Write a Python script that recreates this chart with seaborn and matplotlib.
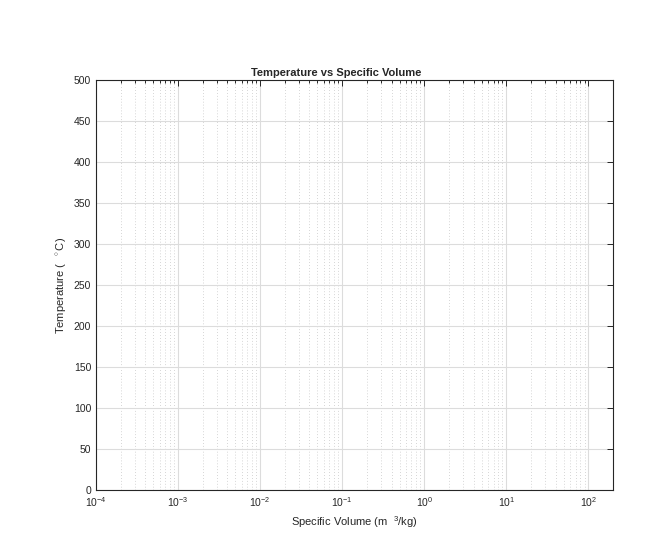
import matplotlib
matplotlib.use('Agg')
import matplotlib.pyplot as plt
import seaborn as sns
import numpy as np
from matplotlib.ticker import LogLocator, NullFormatter

# empty chart: no data series in the reference
specific_volume = np.array([], dtype=float)
temperature = np.array([], dtype=float)

x_limits = (1e-4, 2e2)
y_limits = (0, 500)
y_ticks = [0, 50, 100, 150, 200, 250, 300, 350, 400, 450, 500]

sns.set_style("white")
plt.rcParams['font.family'] = ['Liberation Sans', 'DejaVu Sans']
plt.rcParams['mathtext.fontset'] = 'custom'
plt.rcParams['mathtext.rm'] = 'Liberation Sans'

fig = plt.figure(figsize=(6.67, 5.45), dpi=100)
ax = fig.add_axes([96 / 667, 1 - 490 / 545, (613 - 96) / 667, (490 - 80) / 545])

sns.lineplot(x=specific_volume, y=temperature, ax=ax)

ax.set_xscale('log')
ax.set_xlim(*x_limits)
ax.set_ylim(*y_limits)
ax.set_yticks(y_ticks)
ax.xaxis.set_major_locator(LogLocator(base=10, numticks=12))
ax.xaxis.set_minor_locator(LogLocator(base=10, subs=np.arange(2, 10), numticks=12))
ax.xaxis.set_minor_formatter(NullFormatter())

ax.grid(True, which='major', color='#dcdcdc', linewidth=0.8, linestyle='-')
ax.grid(True, which='minor', axis='x', color='#c8c8c8', linewidth=0.6, linestyle=(0, (1, 2.5)))
ax.set_axisbelow(True)

for s in ax.spines.values():
    s.set_color('#262626')
    s.set_linewidth(0.8)
ax.tick_params(which='both', direction='in', top=True, right=True, colors='#262626',
               labelsize=7.5, width=0.7)
ax.tick_params(which='major', length=4)
ax.tick_params(which='minor', length=2.5)

ax.set_title('Temperature vs Specific Volume', fontsize=8, fontweight='bold', pad=3, x=0.464)
ax.set_xlabel('Specific Volume (m  $^3$/kg)', fontsize=8, color='#262626', labelpad=4)
ax.set_ylabel('Temperature (  $^\\circ$C)', fontsize=8, color='#262626', labelpad=4)

fig.savefig('out.png', dpi=100)
